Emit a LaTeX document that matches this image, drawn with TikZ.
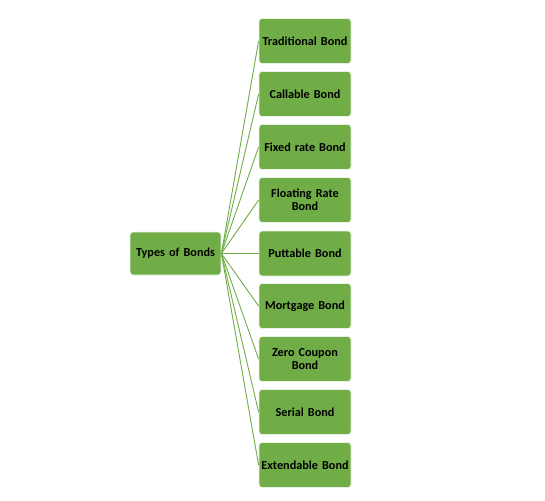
\documentclass[tikz,border=0pt]{standalone}
\usepackage{fontspec}
\setmainfont{Carlito}
\definecolor{bondgreen}{HTML}{70AD47}
\tikzset{
  bondbox/.style={draw=white!85!bondgreen, line width=0.8pt, fill=bondgreen, rounded corners=3pt,
    minimum width=92pt, minimum height=45pt, inner sep=1pt, align=center, text width=90pt,
    font=\fontsize{12.2}{12.5}\selectfont\bfseries},
  link/.style={draw=bondgreen, line width=0.9pt}
}
\begin{document}
\begin{tikzpicture}[x=1pt,y=-1pt]
\useasboundingbox (0,0) rectangle (545,500);
\node[bondbox, minimum width=91pt, minimum height=43pt, text width=89pt] (root) at (175.5,253.5) {Types of Bonds};
\node[bondbox] (b1) at (305,41) {Traditional Bond};
\node[bondbox] (b2) at (305,94) {Callable Bond};
\node[bondbox] (b3) at (305,147) {Fixed rate Bond};
\node[bondbox] (b4) at (305,200) {Floating Rate\\Bond};
\node[bondbox] (b5) at (305,253.5) {Puttable Bond};
\node[bondbox] (b6) at (305,306) {Mortgage Bond};
\node[bondbox] (b7) at (305,359) {Zero Coupon\\Bond};
\node[bondbox] (b8) at (305,412) {Serial Bond};
\node[bondbox] (b9) at (305,465) {Extendable Bond};
\foreach \i in {1,...,9} \draw[link] (root.east) -- (b\i.west);
\end{tikzpicture}
\end{document}
